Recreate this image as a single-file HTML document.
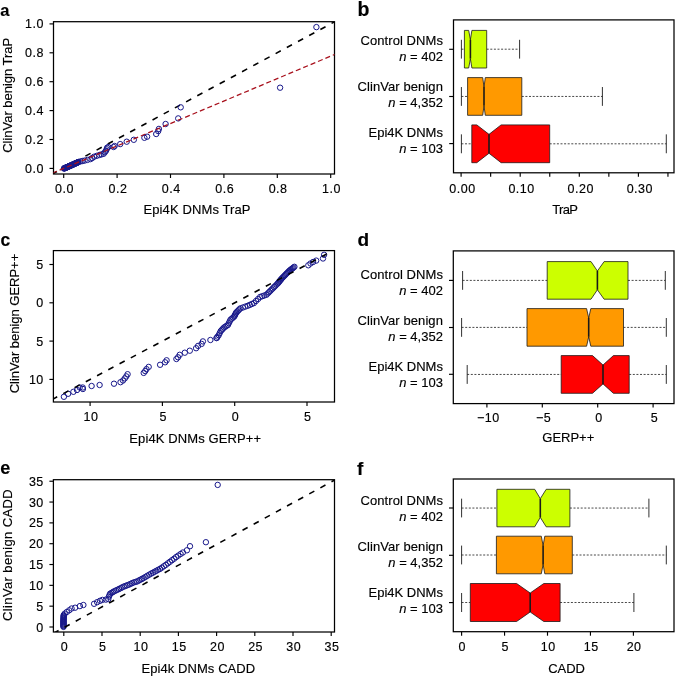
<!DOCTYPE html>
<html><head><meta charset="utf-8"><title>Figure</title>
<style>
html,body{margin:0;padding:0;background:#fff;}
svg{display:block;}
text{font-family:"Liberation Sans",sans-serif;fill:#000;stroke:#000;stroke-width:0.15px;}
</style></head><body>
<svg width="675" height="676" viewBox="0 0 675 676">
<rect width="675" height="676" fill="#fff"/>
<rect x="53.50" y="21.70" width="281.00" height="152.30" fill="none" stroke="#000" stroke-width="1.25"/>
<line x1="63.70" y1="174.00" x2="63.70" y2="178.00" stroke="#000" stroke-width="1.15" />
<text x="64.50" y="193.20" font-size="12.5" text-anchor="middle" font-weight="normal" letter-spacing="0.5" >0.0</text>
<line x1="117.10" y1="174.00" x2="117.10" y2="178.00" stroke="#000" stroke-width="1.15" />
<text x="117.90" y="193.20" font-size="12.5" text-anchor="middle" font-weight="normal" letter-spacing="0.5" >0.2</text>
<line x1="170.50" y1="174.00" x2="170.50" y2="178.00" stroke="#000" stroke-width="1.15" />
<text x="171.30" y="193.20" font-size="12.5" text-anchor="middle" font-weight="normal" letter-spacing="0.5" >0.4</text>
<line x1="223.90" y1="174.00" x2="223.90" y2="178.00" stroke="#000" stroke-width="1.15" />
<text x="224.70" y="193.20" font-size="12.5" text-anchor="middle" font-weight="normal" letter-spacing="0.5" >0.6</text>
<line x1="277.30" y1="174.00" x2="277.30" y2="178.00" stroke="#000" stroke-width="1.15" />
<text x="278.10" y="193.20" font-size="12.5" text-anchor="middle" font-weight="normal" letter-spacing="0.5" >0.8</text>
<line x1="330.70" y1="174.00" x2="330.70" y2="178.00" stroke="#000" stroke-width="1.15" />
<text x="331.50" y="193.20" font-size="12.5" text-anchor="middle" font-weight="normal" letter-spacing="0.5" >1.0</text>
<line x1="49.50" y1="168.40" x2="53.50" y2="168.40" stroke="#000" stroke-width="1.15" />
<text x="43.90" y="172.90" font-size="12.5" text-anchor="end" font-weight="normal" letter-spacing="0.5" >0.0</text>
<line x1="49.50" y1="139.50" x2="53.50" y2="139.50" stroke="#000" stroke-width="1.15" />
<text x="43.90" y="144.00" font-size="12.5" text-anchor="end" font-weight="normal" letter-spacing="0.5" >0.2</text>
<line x1="49.50" y1="110.60" x2="53.50" y2="110.60" stroke="#000" stroke-width="1.15" />
<text x="43.90" y="115.10" font-size="12.5" text-anchor="end" font-weight="normal" letter-spacing="0.5" >0.4</text>
<line x1="49.50" y1="81.70" x2="53.50" y2="81.70" stroke="#000" stroke-width="1.15" />
<text x="43.90" y="86.20" font-size="12.5" text-anchor="end" font-weight="normal" letter-spacing="0.5" >0.6</text>
<line x1="49.50" y1="52.80" x2="53.50" y2="52.80" stroke="#000" stroke-width="1.15" />
<text x="43.90" y="57.30" font-size="12.5" text-anchor="end" font-weight="normal" letter-spacing="0.5" >0.8</text>
<line x1="49.50" y1="23.90" x2="53.50" y2="23.90" stroke="#000" stroke-width="1.15" />
<text x="43.90" y="28.40" font-size="12.5" text-anchor="end" font-weight="normal" letter-spacing="0.5" >1.0</text>
<text x="197.00" y="213.90" font-size="13" text-anchor="middle" font-weight="normal" textLength="107.0" lengthAdjust="spacing" >Epi4K DNMs TraP</text>
<text transform="translate(11.90,95.30) rotate(-90)" font-size="13" text-anchor="middle" textLength="115.0" lengthAdjust="spacing">ClinVar benign TraP</text>
<text x="0.20" y="16.30" font-size="16.5" text-anchor="start" font-weight="bold" >a</text>
<clipPath id="ca"><rect x="53.5" y="21.7" width="281.0" height="152.3"/></clipPath>
<path clip-path="url(#ca)" d="M40.63 180.26L45.78 177.48M51.82 174.23L56.97 171.45M63.01 168.19L68.16 165.42M74.20 162.16L79.35 159.39M85.39 156.13L90.54 153.35M96.58 150.10L101.73 147.32M107.77 144.07L112.92 141.29M118.96 138.03L124.11 135.26M130.15 132.00L135.30 129.22M141.34 125.97L146.49 123.19M152.53 119.94L157.68 117.16M163.72 113.90L168.87 111.13M174.91 107.87L180.06 105.10M186.10 101.84L191.25 99.06M197.29 95.81L202.44 93.03M208.48 89.78L213.63 87.00M219.67 83.74L224.82 80.97M230.86 77.71L236.01 74.94M242.05 71.68L247.20 68.90M253.24 65.65L258.39 62.87M264.43 59.62L269.58 56.84M275.62 53.58L280.77 50.81M286.81 47.55L291.96 44.78M298.00 41.52L303.15 38.74M309.19 35.49L314.34 32.71M320.38 29.46L325.53 26.68M331.57 23.42L336.72 20.65" stroke="#000" stroke-width="1.6" fill="none"/>
<g fill="none" stroke="#18188a" stroke-width="1.0">
<circle cx="63.9" cy="168.5" r="2.7"/>
<circle cx="64.2" cy="168.4" r="2.7"/>
<circle cx="64.5" cy="168.3" r="2.7"/>
<circle cx="64.7" cy="168.1" r="2.7"/>
<circle cx="65.0" cy="168.0" r="2.7"/>
<circle cx="65.3" cy="167.9" r="2.7"/>
<circle cx="65.6" cy="167.8" r="2.7"/>
<circle cx="65.8" cy="167.7" r="2.7"/>
<circle cx="66.1" cy="167.6" r="2.7"/>
<circle cx="66.4" cy="167.4" r="2.7"/>
<circle cx="66.7" cy="167.3" r="2.7"/>
<circle cx="67.0" cy="167.2" r="2.7"/>
<circle cx="67.2" cy="167.1" r="2.7"/>
<circle cx="67.5" cy="167.0" r="2.7"/>
<circle cx="67.8" cy="166.8" r="2.7"/>
<circle cx="68.1" cy="166.7" r="2.7"/>
<circle cx="68.3" cy="166.6" r="2.7"/>
<circle cx="68.6" cy="166.5" r="2.7"/>
<circle cx="68.9" cy="166.4" r="2.7"/>
<circle cx="69.2" cy="166.3" r="2.7"/>
<circle cx="69.4" cy="166.1" r="2.7"/>
<circle cx="69.7" cy="166.0" r="2.7"/>
<circle cx="70.0" cy="165.9" r="2.7"/>
<circle cx="70.4" cy="165.7" r="2.7"/>
<circle cx="70.7" cy="165.6" r="2.7"/>
<circle cx="71.1" cy="165.4" r="2.7"/>
<circle cx="71.4" cy="165.2" r="2.7"/>
<circle cx="71.8" cy="165.1" r="2.7"/>
<circle cx="72.1" cy="164.9" r="2.7"/>
<circle cx="72.5" cy="164.8" r="2.7"/>
<circle cx="72.8" cy="164.6" r="2.7"/>
<circle cx="73.2" cy="164.4" r="2.7"/>
<circle cx="73.5" cy="164.3" r="2.7"/>
<circle cx="73.9" cy="164.1" r="2.7"/>
<circle cx="74.2" cy="163.9" r="2.7"/>
<circle cx="74.6" cy="163.8" r="2.7"/>
<circle cx="75.0" cy="163.6" r="2.7"/>
<circle cx="75.3" cy="163.5" r="2.7"/>
<circle cx="75.7" cy="163.3" r="2.7"/>
<circle cx="76.0" cy="163.1" r="2.7"/>
<circle cx="76.4" cy="163.0" r="2.7"/>
<circle cx="76.7" cy="162.8" r="2.7"/>
<circle cx="77.1" cy="162.7" r="2.7"/>
<circle cx="77.4" cy="162.5" r="2.7"/>
<circle cx="77.8" cy="162.3" r="2.7"/>
<circle cx="78.1" cy="162.2" r="2.7"/>
<circle cx="78.5" cy="162.0" r="2.7"/>
<circle cx="80.5" cy="161.4" r="2.7"/>
<circle cx="82.5" cy="161.0" r="2.7"/>
<circle cx="84.6" cy="160.6" r="2.7"/>
<circle cx="87.5" cy="159.9" r="2.7"/>
<circle cx="90.5" cy="159.1" r="2.7"/>
<circle cx="92.3" cy="158.0" r="2.7"/>
<circle cx="94.1" cy="156.7" r="2.7"/>
<circle cx="96.8" cy="155.8" r="2.7"/>
<circle cx="99.4" cy="155.0" r="2.7"/>
<circle cx="101.5" cy="154.4" r="2.7"/>
<circle cx="103.6" cy="153.8" r="2.7"/>
<circle cx="104.8" cy="152.3" r="2.7"/>
<circle cx="106.0" cy="150.8" r="2.7"/>
<circle cx="106.6" cy="149.3" r="2.7"/>
<circle cx="107.1" cy="147.8" r="2.7"/>
<circle cx="108.3" cy="147.0" r="2.7"/>
<circle cx="113.6" cy="147.0" r="2.7"/>
<circle cx="114.6" cy="146.0" r="2.7"/>
<circle cx="120.2" cy="144.1" r="2.7"/>
<circle cx="126.7" cy="141.7" r="2.7"/>
<circle cx="133.8" cy="139.8" r="2.7"/>
<circle cx="144.4" cy="137.8" r="2.7"/>
<circle cx="147.1" cy="136.7" r="2.7"/>
<circle cx="156.2" cy="134.0" r="2.7"/>
<circle cx="158.2" cy="131.1" r="2.7"/>
<circle cx="158.9" cy="128.9" r="2.7"/>
<circle cx="165.6" cy="124.0" r="2.7"/>
<circle cx="178.2" cy="118.4" r="2.7"/>
<circle cx="180.7" cy="107.3" r="2.7"/>
<circle cx="280.1" cy="87.7" r="2.7"/>
<circle cx="316.4" cy="27.1" r="2.7"/>
</g>
<clipPath id="car"><rect x="53.5" y="21.7" width="281.0" height="152.3"/></clipPath>
<path clip-path="url(#car)" d="M44.84 176.33L49.50 174.37M52.22 173.23L56.88 171.27M59.61 170.12L64.27 168.16M66.99 167.02L71.65 165.06M74.37 163.91L79.03 161.95M81.75 160.81L86.41 158.85M89.14 157.70L93.80 155.74M96.52 154.60L101.18 152.64M103.90 151.49L108.56 149.53M111.29 148.39L115.95 146.43M118.67 145.28L123.33 143.32M126.05 142.18L130.71 140.22M133.44 139.08L138.10 137.12M140.82 135.97L145.48 134.01M148.20 132.87L152.86 130.91M155.59 129.76L160.25 127.80M162.97 126.66L167.63 124.70M170.35 123.55L175.01 121.59M177.73 120.45L182.39 118.49M185.12 117.34L189.78 115.38M192.50 114.24L197.16 112.28M199.88 111.13L204.54 109.17M207.27 108.03L211.93 106.07M214.65 104.92L219.31 102.96M222.03 101.82L226.69 99.86M229.41 98.71L234.07 96.76M236.80 95.61L241.46 93.65M244.18 92.51L248.84 90.55M251.56 89.40L256.22 87.44M258.95 86.30L263.61 84.34M266.33 83.19L270.99 81.23M273.71 80.09L278.37 78.13M281.10 76.98L285.76 75.02M288.48 73.88L293.14 71.92M295.86 70.77L300.52 68.81M303.25 67.67L307.91 65.71M310.63 64.56L315.29 62.60M318.01 61.46L322.67 59.50M325.39 58.35L330.05 56.40M332.78 55.25L337.44 53.29" stroke="#a8101c" stroke-width="1.25" fill="none"/>
<rect x="53.40" y="250.60" width="281.10" height="151.40" fill="none" stroke="#000" stroke-width="1.25"/>
<line x1="90.10" y1="402.00" x2="90.10" y2="406.00" stroke="#000" stroke-width="1.15" />
<text x="90.90" y="421.30" font-size="12.5" text-anchor="middle" font-weight="normal" letter-spacing="0.5" >10</text>
<line x1="162.40" y1="402.00" x2="162.40" y2="406.00" stroke="#000" stroke-width="1.15" />
<text x="163.20" y="421.30" font-size="12.5" text-anchor="middle" font-weight="normal" letter-spacing="0.5" >5</text>
<line x1="234.70" y1="402.00" x2="234.70" y2="406.00" stroke="#000" stroke-width="1.15" />
<text x="235.50" y="421.30" font-size="12.5" text-anchor="middle" font-weight="normal" letter-spacing="0.5" >0</text>
<line x1="307.00" y1="402.00" x2="307.00" y2="406.00" stroke="#000" stroke-width="1.15" />
<text x="307.80" y="421.30" font-size="12.5" text-anchor="middle" font-weight="normal" letter-spacing="0.5" >5</text>
<line x1="49.40" y1="264.50" x2="53.40" y2="264.50" stroke="#000" stroke-width="1.15" />
<text x="43.80" y="269.00" font-size="12.5" text-anchor="end" font-weight="normal" letter-spacing="0.5" >5</text>
<line x1="49.40" y1="302.80" x2="53.40" y2="302.80" stroke="#000" stroke-width="1.15" />
<text x="43.80" y="307.30" font-size="12.5" text-anchor="end" font-weight="normal" letter-spacing="0.5" >0</text>
<line x1="49.40" y1="341.10" x2="53.40" y2="341.10" stroke="#000" stroke-width="1.15" />
<text x="43.80" y="345.60" font-size="12.5" text-anchor="end" font-weight="normal" letter-spacing="0.5" >5</text>
<line x1="49.40" y1="379.40" x2="53.40" y2="379.40" stroke="#000" stroke-width="1.15" />
<text x="43.80" y="383.90" font-size="12.5" text-anchor="end" font-weight="normal" letter-spacing="0.5" >10</text>
<text x="195.20" y="442.90" font-size="13" text-anchor="middle" font-weight="normal" textLength="131.8" lengthAdjust="spacing" >Epi4K DNMs GERP++</text>
<text transform="translate(19.20,323.50) rotate(-90)" font-size="13" text-anchor="middle" textLength="139.5" lengthAdjust="spacing">ClinVar benign GERP++</text>
<text x="0.40" y="246.10" font-size="17.5" text-anchor="start" font-weight="bold" >c</text>
<g fill="none" stroke="#18188a" stroke-width="1.0">
<circle cx="63.9" cy="396.8" r="2.7"/>
<circle cx="68.1" cy="393.8" r="2.7"/>
<circle cx="73.4" cy="391.8" r="2.7"/>
<circle cx="77.0" cy="390.0" r="2.7"/>
<circle cx="79.7" cy="387.5" r="2.7"/>
<circle cx="82.7" cy="387.5" r="2.7"/>
<circle cx="82.9" cy="389.0" r="2.7"/>
<circle cx="91.6" cy="386.0" r="2.7"/>
<circle cx="99.6" cy="385.0" r="2.7"/>
<circle cx="114.0" cy="383.7" r="2.7"/>
<circle cx="120.5" cy="382.2" r="2.7"/>
<circle cx="123.0" cy="380.5" r="2.7"/>
<circle cx="124.8" cy="378.4" r="2.7"/>
<circle cx="126.3" cy="376.4" r="2.7"/>
<circle cx="127.6" cy="374.2" r="2.7"/>
<circle cx="143.7" cy="372.9" r="2.7"/>
<circle cx="145.2" cy="371.1" r="2.7"/>
<circle cx="146.5" cy="369.1" r="2.7"/>
<circle cx="148.7" cy="366.9" r="2.7"/>
<circle cx="160.1" cy="364.8" r="2.7"/>
<circle cx="165.1" cy="362.3" r="2.7"/>
<circle cx="166.6" cy="360.3" r="2.7"/>
<circle cx="176.4" cy="359.0" r="2.7"/>
<circle cx="178.0" cy="357.3" r="2.7"/>
<circle cx="179.7" cy="354.8" r="2.7"/>
<circle cx="184.8" cy="352.7" r="2.7"/>
<circle cx="189.8" cy="350.7" r="2.7"/>
<circle cx="196.1" cy="348.2" r="2.7"/>
<circle cx="198.1" cy="345.9" r="2.7"/>
<circle cx="201.6" cy="343.9" r="2.7"/>
<circle cx="202.9" cy="341.4" r="2.7"/>
<circle cx="210.4" cy="340.0" r="2.7"/>
<circle cx="216.6" cy="338.0" r="2.7"/>
<circle cx="216.6" cy="338.0" r="2.7"/>
<circle cx="217.6" cy="336.6" r="2.7"/>
<circle cx="218.7" cy="335.2" r="2.7"/>
<circle cx="219.7" cy="333.1" r="2.7"/>
<circle cx="220.7" cy="331.1" r="2.7"/>
<circle cx="221.8" cy="329.9" r="2.7"/>
<circle cx="222.8" cy="328.8" r="2.7"/>
<circle cx="223.9" cy="327.6" r="2.7"/>
<circle cx="225.3" cy="326.7" r="2.7"/>
<circle cx="226.6" cy="325.8" r="2.7"/>
<circle cx="228.0" cy="324.9" r="2.7"/>
<circle cx="228.8" cy="323.2" r="2.7"/>
<circle cx="229.7" cy="321.4" r="2.7"/>
<circle cx="230.5" cy="319.7" r="2.7"/>
<circle cx="231.7" cy="318.7" r="2.7"/>
<circle cx="233.0" cy="317.6" r="2.7"/>
<circle cx="234.2" cy="316.6" r="2.7"/>
<circle cx="234.7" cy="315.6" r="2.7"/>
<circle cx="235.2" cy="314.5" r="2.7"/>
<circle cx="235.8" cy="313.4" r="2.7"/>
<circle cx="236.3" cy="312.4" r="2.7"/>
<circle cx="237.4" cy="311.4" r="2.7"/>
<circle cx="238.4" cy="310.4" r="2.7"/>
<circle cx="239.4" cy="309.3" r="2.7"/>
<circle cx="240.5" cy="308.3" r="2.7"/>
<circle cx="242.9" cy="307.5" r="2.7"/>
<circle cx="245.3" cy="306.6" r="2.7"/>
<circle cx="247.7" cy="305.8" r="2.7"/>
<circle cx="249.8" cy="304.9" r="2.7"/>
<circle cx="251.8" cy="304.0" r="2.7"/>
<circle cx="253.9" cy="303.1" r="2.7"/>
<circle cx="256.0" cy="301.0" r="2.7"/>
<circle cx="258.1" cy="299.0" r="2.7"/>
<circle cx="260.2" cy="296.9" r="2.7"/>
<circle cx="262.3" cy="296.2" r="2.7"/>
<circle cx="264.3" cy="295.5" r="2.7"/>
<circle cx="266.4" cy="294.8" r="2.7"/>
<circle cx="267.7" cy="293.5" r="2.7"/>
<circle cx="269.0" cy="292.2" r="2.7"/>
<circle cx="270.3" cy="290.9" r="2.7"/>
<circle cx="271.6" cy="289.6" r="2.7"/>
<circle cx="272.8" cy="288.4" r="2.7"/>
<circle cx="274.1" cy="287.1" r="2.7"/>
<circle cx="275.3" cy="285.9" r="2.7"/>
<circle cx="276.6" cy="284.6" r="2.7"/>
<circle cx="277.8" cy="283.4" r="2.7"/>
<circle cx="278.5" cy="282.5" r="2.7"/>
<circle cx="279.2" cy="281.7" r="2.7"/>
<circle cx="279.9" cy="280.8" r="2.7"/>
<circle cx="280.6" cy="279.9" r="2.7"/>
<circle cx="281.3" cy="279.1" r="2.7"/>
<circle cx="282.0" cy="278.2" r="2.7"/>
<circle cx="283.0" cy="277.2" r="2.7"/>
<circle cx="284.1" cy="276.1" r="2.7"/>
<circle cx="285.1" cy="275.1" r="2.7"/>
<circle cx="286.1" cy="274.0" r="2.7"/>
<circle cx="287.1" cy="273.0" r="2.7"/>
<circle cx="288.2" cy="271.9" r="2.7"/>
<circle cx="289.2" cy="270.9" r="2.7"/>
<circle cx="290.1" cy="270.2" r="2.7"/>
<circle cx="290.9" cy="269.5" r="2.7"/>
<circle cx="291.8" cy="268.9" r="2.7"/>
<circle cx="292.7" cy="268.2" r="2.7"/>
<circle cx="293.5" cy="267.5" r="2.7"/>
<circle cx="294.4" cy="266.8" r="2.7"/>
<circle cx="308.3" cy="265.3" r="2.7"/>
<circle cx="310.5" cy="263.5" r="2.7"/>
<circle cx="313.1" cy="262.0" r="2.7"/>
<circle cx="316.2" cy="260.6" r="2.7"/>
<circle cx="323.0" cy="258.5" r="2.7"/>
<circle cx="324.1" cy="254.8" r="2.7"/>
</g>
<clipPath id="cc"><rect x="53.4" y="250.6" width="273.3" height="151.4"/></clipPath>
<path clip-path="url(#cc)" d="M40.80 405.52L45.95 402.79M52.05 399.56L57.20 396.83M63.30 393.60L68.45 390.87M74.55 387.64L79.70 384.91M85.80 381.68L90.95 378.95M97.05 375.72L102.20 372.99M108.30 369.76L113.45 367.03M119.55 363.80L124.70 361.07M130.80 357.84L135.95 355.11M142.05 351.88L147.20 349.15M153.30 345.92L158.45 343.19M164.55 339.96L169.70 337.23M175.80 334.00L180.95 331.27M187.05 328.04L192.20 325.31M198.30 322.08L203.45 319.35M209.55 316.12L214.70 313.39M220.80 310.16L225.95 307.44M232.05 304.20L237.20 301.48M243.30 298.24L248.45 295.52M254.55 292.28L259.70 289.56M265.80 286.33L270.95 283.60M277.05 280.37L282.20 277.64M288.30 274.41L293.45 271.68M299.55 268.45L304.70 265.72M310.80 262.49L315.95 259.76M322.05 256.53L327.20 253.80" stroke="#000" stroke-width="1.6" fill="none"/>
<rect x="53.40" y="479.70" width="281.10" height="152.30" fill="none" stroke="#000" stroke-width="1.25"/>
<line x1="63.80" y1="632.00" x2="63.80" y2="636.00" stroke="#000" stroke-width="1.15" />
<text x="64.60" y="650.80" font-size="12.5" text-anchor="middle" font-weight="normal" letter-spacing="0.5" >0</text>
<line x1="102.00" y1="632.00" x2="102.00" y2="636.00" stroke="#000" stroke-width="1.15" />
<text x="102.80" y="650.80" font-size="12.5" text-anchor="middle" font-weight="normal" letter-spacing="0.5" >5</text>
<line x1="140.20" y1="632.00" x2="140.20" y2="636.00" stroke="#000" stroke-width="1.15" />
<text x="141.00" y="650.80" font-size="12.5" text-anchor="middle" font-weight="normal" letter-spacing="0.5" >10</text>
<line x1="178.40" y1="632.00" x2="178.40" y2="636.00" stroke="#000" stroke-width="1.15" />
<text x="179.20" y="650.80" font-size="12.5" text-anchor="middle" font-weight="normal" letter-spacing="0.5" >15</text>
<line x1="216.60" y1="632.00" x2="216.60" y2="636.00" stroke="#000" stroke-width="1.15" />
<text x="217.40" y="650.80" font-size="12.5" text-anchor="middle" font-weight="normal" letter-spacing="0.5" >20</text>
<line x1="254.80" y1="632.00" x2="254.80" y2="636.00" stroke="#000" stroke-width="1.15" />
<text x="255.60" y="650.80" font-size="12.5" text-anchor="middle" font-weight="normal" letter-spacing="0.5" >25</text>
<line x1="293.00" y1="632.00" x2="293.00" y2="636.00" stroke="#000" stroke-width="1.15" />
<text x="293.80" y="650.80" font-size="12.5" text-anchor="middle" font-weight="normal" letter-spacing="0.5" >30</text>
<line x1="331.20" y1="632.00" x2="331.20" y2="636.00" stroke="#000" stroke-width="1.15" />
<text x="332.00" y="650.80" font-size="12.5" text-anchor="middle" font-weight="normal" letter-spacing="0.5" >35</text>
<line x1="49.40" y1="627.00" x2="53.40" y2="627.00" stroke="#000" stroke-width="1.15" />
<text x="43.80" y="631.50" font-size="12.5" text-anchor="end" font-weight="normal" letter-spacing="0.5" >0</text>
<line x1="49.40" y1="606.17" x2="53.40" y2="606.17" stroke="#000" stroke-width="1.15" />
<text x="43.80" y="610.67" font-size="12.5" text-anchor="end" font-weight="normal" letter-spacing="0.5" >5</text>
<line x1="49.40" y1="585.35" x2="53.40" y2="585.35" stroke="#000" stroke-width="1.15" />
<text x="43.80" y="589.85" font-size="12.5" text-anchor="end" font-weight="normal" letter-spacing="0.5" >10</text>
<line x1="49.40" y1="564.52" x2="53.40" y2="564.52" stroke="#000" stroke-width="1.15" />
<text x="43.80" y="569.02" font-size="12.5" text-anchor="end" font-weight="normal" letter-spacing="0.5" >15</text>
<line x1="49.40" y1="543.70" x2="53.40" y2="543.70" stroke="#000" stroke-width="1.15" />
<text x="43.80" y="548.20" font-size="12.5" text-anchor="end" font-weight="normal" letter-spacing="0.5" >20</text>
<line x1="49.40" y1="522.88" x2="53.40" y2="522.88" stroke="#000" stroke-width="1.15" />
<text x="43.80" y="527.38" font-size="12.5" text-anchor="end" font-weight="normal" letter-spacing="0.5" >25</text>
<line x1="49.40" y1="502.05" x2="53.40" y2="502.05" stroke="#000" stroke-width="1.15" />
<text x="43.80" y="506.55" font-size="12.5" text-anchor="end" font-weight="normal" letter-spacing="0.5" >30</text>
<line x1="49.40" y1="481.23" x2="53.40" y2="481.23" stroke="#000" stroke-width="1.15" />
<text x="43.80" y="485.73" font-size="12.5" text-anchor="end" font-weight="normal" letter-spacing="0.5" >35</text>
<text x="198.30" y="672.90" font-size="13" text-anchor="middle" font-weight="normal" textLength="113.8" lengthAdjust="spacing" >Epi4k DNMs CADD</text>
<text transform="translate(11.80,555.20) rotate(-90)" font-size="13" text-anchor="middle" textLength="131.6" lengthAdjust="spacing">ClinVar benign CADD</text>
<text x="0.20" y="474.40" font-size="18" text-anchor="start" font-weight="bold" >e</text>
<g fill="none" stroke="#18188a" stroke-width="1.0">
<circle cx="63.5" cy="626.9" r="2.7"/>
<circle cx="63.5" cy="626.2" r="2.7"/>
<circle cx="63.5" cy="625.6" r="2.7"/>
<circle cx="63.5" cy="624.9" r="2.7"/>
<circle cx="63.5" cy="624.3" r="2.7"/>
<circle cx="63.5" cy="623.6" r="2.7"/>
<circle cx="63.5" cy="623.0" r="2.7"/>
<circle cx="63.5" cy="622.3" r="2.7"/>
<circle cx="63.5" cy="621.7" r="2.7"/>
<circle cx="63.5" cy="621.0" r="2.7"/>
<circle cx="63.5" cy="620.2" r="2.7"/>
<circle cx="63.5" cy="619.5" r="2.7"/>
<circle cx="63.6" cy="618.8" r="2.7"/>
<circle cx="63.6" cy="618.0" r="2.7"/>
<circle cx="63.6" cy="617.2" r="2.7"/>
<circle cx="63.7" cy="616.5" r="2.7"/>
<circle cx="63.7" cy="615.8" r="2.7"/>
<circle cx="63.7" cy="615.0" r="2.7"/>
<circle cx="64.8" cy="613.6" r="2.7"/>
<circle cx="66.8" cy="612.0" r="2.7"/>
<circle cx="69.2" cy="610.3" r="2.7"/>
<circle cx="71.6" cy="608.5" r="2.7"/>
<circle cx="75.1" cy="607.7" r="2.7"/>
<circle cx="79.9" cy="606.1" r="2.7"/>
<circle cx="83.4" cy="605.0" r="2.7"/>
<circle cx="94.1" cy="603.8" r="2.7"/>
<circle cx="97.1" cy="602.2" r="2.7"/>
<circle cx="100.0" cy="600.8" r="2.7"/>
<circle cx="102.4" cy="599.9" r="2.7"/>
<circle cx="105.9" cy="599.6" r="2.7"/>
<circle cx="108.3" cy="599.0" r="2.7"/>
<circle cx="108.9" cy="596.7" r="2.7"/>
<circle cx="109.5" cy="595.2" r="2.7"/>
<circle cx="110.1" cy="593.7" r="2.7"/>
<circle cx="111.5" cy="592.9" r="2.7"/>
<circle cx="112.8" cy="592.1" r="2.7"/>
<circle cx="114.2" cy="591.3" r="2.7"/>
<circle cx="115.8" cy="590.5" r="2.7"/>
<circle cx="117.4" cy="589.8" r="2.7"/>
<circle cx="119.0" cy="589.0" r="2.7"/>
<circle cx="120.6" cy="588.2" r="2.7"/>
<circle cx="122.1" cy="587.4" r="2.7"/>
<circle cx="123.7" cy="586.6" r="2.7"/>
<circle cx="125.3" cy="586.0" r="2.7"/>
<circle cx="126.9" cy="585.4" r="2.7"/>
<circle cx="128.5" cy="584.8" r="2.7"/>
<circle cx="130.3" cy="584.0" r="2.7"/>
<circle cx="132.0" cy="583.2" r="2.7"/>
<circle cx="133.8" cy="582.4" r="2.7"/>
<circle cx="135.6" cy="581.9" r="2.7"/>
<circle cx="137.3" cy="581.4" r="2.7"/>
<circle cx="138.9" cy="580.5" r="2.7"/>
<circle cx="140.4" cy="579.7" r="2.7"/>
<circle cx="142.0" cy="578.9" r="2.7"/>
<circle cx="143.6" cy="578.0" r="2.7"/>
<circle cx="145.5" cy="576.9" r="2.7"/>
<circle cx="147.3" cy="575.8" r="2.7"/>
<circle cx="149.2" cy="574.7" r="2.7"/>
<circle cx="151.1" cy="573.6" r="2.7"/>
<circle cx="152.9" cy="572.7" r="2.7"/>
<circle cx="154.7" cy="571.7" r="2.7"/>
<circle cx="156.4" cy="570.8" r="2.7"/>
<circle cx="158.2" cy="569.8" r="2.7"/>
<circle cx="160.0" cy="568.9" r="2.7"/>
<circle cx="161.9" cy="567.6" r="2.7"/>
<circle cx="163.9" cy="566.2" r="2.7"/>
<circle cx="165.8" cy="564.9" r="2.7"/>
<circle cx="167.9" cy="563.3" r="2.7"/>
<circle cx="169.9" cy="561.8" r="2.7"/>
<circle cx="172.0" cy="560.2" r="2.7"/>
<circle cx="174.1" cy="558.7" r="2.7"/>
<circle cx="176.1" cy="557.1" r="2.7"/>
<circle cx="178.2" cy="555.6" r="2.7"/>
<circle cx="180.6" cy="554.0" r="2.7"/>
<circle cx="182.9" cy="552.5" r="2.7"/>
<circle cx="186.9" cy="550.3" r="2.7"/>
<circle cx="190.0" cy="546.2" r="2.7"/>
<circle cx="205.9" cy="542.2" r="2.7"/>
<circle cx="217.7" cy="484.9" r="2.7"/>
</g>
<clipPath id="ce"><rect x="53.4" y="479.7" width="281.1" height="152.3"/></clipPath>
<path clip-path="url(#ce)" d="M31.24 645.45L36.34 642.67M42.36 639.39L47.46 636.61M53.48 633.33L58.58 630.55M64.60 627.26L69.70 624.48M75.72 621.20L80.82 618.42M86.84 615.14L91.94 612.36M97.96 609.08L103.06 606.30M109.08 603.02L114.18 600.23M120.20 596.95L125.30 594.17M131.32 590.89L136.42 588.11M142.44 584.83L147.54 582.05M153.56 578.77L158.66 575.99M164.68 572.70L169.78 569.92M175.80 566.64L180.90 563.86M186.92 560.58L192.02 557.80M198.04 554.52L203.14 551.74M209.16 548.46L214.26 545.68M220.28 542.39L225.38 539.61M231.40 536.33L236.50 533.55M242.52 530.27L247.62 527.49M253.64 524.21L258.74 521.43M264.76 518.15L269.86 515.36M275.88 512.08L280.98 509.30M287.00 506.02L292.10 503.24M298.12 499.96L303.22 497.18M309.24 493.90L314.34 491.12M320.36 487.83L325.46 485.05M331.48 481.77L336.58 478.99" stroke="#000" stroke-width="1.6" fill="none"/>
<rect x="453.50" y="19.90" width="220.50" height="152.90" fill="none" stroke="#000" stroke-width="1.25"/>
<line x1="461.10" y1="172.80" x2="461.10" y2="176.80" stroke="#000" stroke-width="1.15" />
<text x="462.50" y="193.20" font-size="12.5" text-anchor="middle" font-weight="normal" letter-spacing="0.5" >0.00</text>
<line x1="490.65" y1="172.80" x2="490.65" y2="176.80" stroke="#000" stroke-width="1.15" />
<line x1="520.20" y1="172.80" x2="520.20" y2="176.80" stroke="#000" stroke-width="1.15" />
<text x="521.60" y="193.20" font-size="12.5" text-anchor="middle" font-weight="normal" letter-spacing="0.5" >0.10</text>
<line x1="549.75" y1="172.80" x2="549.75" y2="176.80" stroke="#000" stroke-width="1.15" />
<line x1="579.30" y1="172.80" x2="579.30" y2="176.80" stroke="#000" stroke-width="1.15" />
<text x="580.70" y="193.20" font-size="12.5" text-anchor="middle" font-weight="normal" letter-spacing="0.5" >0.20</text>
<line x1="608.85" y1="172.80" x2="608.85" y2="176.80" stroke="#000" stroke-width="1.15" />
<line x1="638.40" y1="172.80" x2="638.40" y2="176.80" stroke="#000" stroke-width="1.15" />
<text x="639.80" y="193.20" font-size="12.5" text-anchor="middle" font-weight="normal" letter-spacing="0.5" >0.30</text>
<line x1="667.95" y1="172.80" x2="667.95" y2="176.80" stroke="#000" stroke-width="1.15" />
<text x="565.10" y="214.20" font-size="13" text-anchor="middle" font-weight="normal" textLength="25.8" lengthAdjust="spacing" >TraP</text>
<text x="357.40" y="16.00" font-size="19.5" text-anchor="start" font-weight="bold" >b</text>
<line x1="449.20" y1="49.30" x2="453.50" y2="49.30" stroke="#000" stroke-width="1.15" />
<text x="442.90" y="45.30" font-size="13" text-anchor="end" font-weight="normal" textLength="82.3" lengthAdjust="spacing" >Control DNMs</text>
<text x="442.90" y="61.10" font-size="13" text-anchor="end" font-weight="normal" ><tspan font-style="italic">n</tspan> = 402</text>
<line x1="461.40" y1="49.20" x2="464.40" y2="49.20" stroke="#1a1a1a" stroke-width="0.8" stroke-dasharray="2 1.6"/>
<line x1="486.70" y1="49.20" x2="519.60" y2="49.20" stroke="#1a1a1a" stroke-width="0.8" stroke-dasharray="2 1.6"/>
<line x1="461.40" y1="39.80" x2="461.40" y2="58.60" stroke="#1a1a1a" stroke-width="0.9" />
<line x1="519.60" y1="39.80" x2="519.60" y2="58.60" stroke="#1a1a1a" stroke-width="0.9" />
<polygon points="464.40,30.40 468.70,30.40 470.40,39.80 471.90,30.40 486.70,30.40 486.70,68.00 471.90,68.00 470.40,58.60 468.70,68.00 464.40,68.00" fill="#ccff00" stroke="#1a1a1a" stroke-width="0.8" stroke-linejoin="miter"/>
<line x1="470.40" y1="39.80" x2="470.40" y2="58.60" stroke="#1a1a1a" stroke-width="1.6" />
<line x1="449.20" y1="96.50" x2="453.50" y2="96.50" stroke="#000" stroke-width="1.15" />
<text x="442.90" y="91.30" font-size="13" text-anchor="end" font-weight="normal" textLength="85.4" lengthAdjust="spacing" >ClinVar benign</text>
<text x="442.90" y="107.10" font-size="13" text-anchor="end" font-weight="normal" ><tspan font-style="italic">n</tspan> = 4,352</text>
<line x1="461.40" y1="96.45" x2="467.60" y2="96.45" stroke="#1a1a1a" stroke-width="0.8" stroke-dasharray="2 1.6"/>
<line x1="521.80" y1="96.45" x2="602.40" y2="96.45" stroke="#1a1a1a" stroke-width="0.8" stroke-dasharray="2 1.6"/>
<line x1="461.40" y1="87.02" x2="461.40" y2="105.87" stroke="#1a1a1a" stroke-width="0.9" />
<line x1="602.40" y1="87.02" x2="602.40" y2="105.87" stroke="#1a1a1a" stroke-width="0.9" />
<polygon points="467.60,77.60 482.70,77.60 484.00,87.02 485.30,77.60 521.80,77.60 521.80,115.30 485.30,115.30 484.00,105.87 482.70,115.30 467.60,115.30" fill="#ff9900" stroke="#1a1a1a" stroke-width="0.8" stroke-linejoin="miter"/>
<line x1="484.00" y1="87.02" x2="484.00" y2="105.87" stroke="#1a1a1a" stroke-width="1.6" />
<line x1="449.20" y1="143.60" x2="453.50" y2="143.60" stroke="#000" stroke-width="1.15" />
<text x="442.90" y="137.30" font-size="13" text-anchor="end" font-weight="normal" textLength="74.3" lengthAdjust="spacing" >Epi4K DNMs</text>
<text x="442.90" y="153.10" font-size="13" text-anchor="end" font-weight="normal" ><tspan font-style="italic">n</tspan> = 103</text>
<line x1="461.40" y1="143.80" x2="471.80" y2="143.80" stroke="#1a1a1a" stroke-width="0.8" stroke-dasharray="2 1.6"/>
<line x1="549.70" y1="143.80" x2="666.30" y2="143.80" stroke="#1a1a1a" stroke-width="0.8" stroke-dasharray="2 1.6"/>
<line x1="461.40" y1="134.35" x2="461.40" y2="153.25" stroke="#1a1a1a" stroke-width="0.9" />
<line x1="666.30" y1="134.35" x2="666.30" y2="153.25" stroke="#1a1a1a" stroke-width="0.9" />
<polygon points="471.80,124.90 476.80,124.90 489.00,134.35 501.10,124.90 549.70,124.90 549.70,162.70 501.10,162.70 489.00,153.25 476.80,162.70 471.80,162.70" fill="#ff0000" stroke="#1a1a1a" stroke-width="0.8" stroke-linejoin="miter"/>
<line x1="489.00" y1="134.35" x2="489.00" y2="153.25" stroke="#1a1a1a" stroke-width="1.6" />
<rect x="453.30" y="250.90" width="220.70" height="152.70" fill="none" stroke="#000" stroke-width="1.25"/>
<line x1="486.90" y1="403.60" x2="486.90" y2="407.60" stroke="#000" stroke-width="1.15" />
<text x="488.30" y="422.00" font-size="12.5" text-anchor="middle" font-weight="normal" letter-spacing="0.5" >−10</text>
<line x1="542.30" y1="403.60" x2="542.30" y2="407.60" stroke="#000" stroke-width="1.15" />
<text x="543.70" y="422.00" font-size="12.5" text-anchor="middle" font-weight="normal" letter-spacing="0.5" >−5</text>
<line x1="597.70" y1="403.60" x2="597.70" y2="407.60" stroke="#000" stroke-width="1.15" />
<text x="599.10" y="422.00" font-size="12.5" text-anchor="middle" font-weight="normal" letter-spacing="0.5" >0</text>
<line x1="653.10" y1="403.60" x2="653.10" y2="407.60" stroke="#000" stroke-width="1.15" />
<text x="654.50" y="422.00" font-size="12.5" text-anchor="middle" font-weight="normal" letter-spacing="0.5" >5</text>
<text x="568.30" y="442.00" font-size="13" text-anchor="middle" font-weight="normal" >GERP++</text>
<text x="357.40" y="246.20" font-size="19" text-anchor="start" font-weight="bold" >d</text>
<line x1="449.00" y1="280.40" x2="453.30" y2="280.40" stroke="#000" stroke-width="1.15" />
<text x="442.90" y="278.80" font-size="13" text-anchor="end" font-weight="normal" textLength="82.3" lengthAdjust="spacing" >Control DNMs</text>
<text x="442.90" y="294.60" font-size="13" text-anchor="end" font-weight="normal" ><tspan font-style="italic">n</tspan> = 402</text>
<line x1="462.60" y1="280.40" x2="547.20" y2="280.40" stroke="#1a1a1a" stroke-width="0.8" stroke-dasharray="2 1.6"/>
<line x1="628.00" y1="280.40" x2="665.30" y2="280.40" stroke="#1a1a1a" stroke-width="0.8" stroke-dasharray="2 1.6"/>
<line x1="462.60" y1="271.00" x2="462.60" y2="289.80" stroke="#1a1a1a" stroke-width="0.9" />
<line x1="665.30" y1="271.00" x2="665.30" y2="289.80" stroke="#1a1a1a" stroke-width="0.9" />
<polygon points="547.20,261.60 591.00,261.60 597.40,271.00 604.10,261.60 628.00,261.60 628.00,299.20 604.10,299.20 597.40,289.80 591.00,299.20 547.20,299.20" fill="#ccff00" stroke="#1a1a1a" stroke-width="0.8" stroke-linejoin="miter"/>
<line x1="597.40" y1="271.00" x2="597.40" y2="289.80" stroke="#1a1a1a" stroke-width="1.6" />
<line x1="449.00" y1="327.50" x2="453.30" y2="327.50" stroke="#000" stroke-width="1.15" />
<text x="442.90" y="324.80" font-size="13" text-anchor="end" font-weight="normal" textLength="85.4" lengthAdjust="spacing" >ClinVar benign</text>
<text x="442.90" y="340.60" font-size="13" text-anchor="end" font-weight="normal" ><tspan font-style="italic">n</tspan> = 4,352</text>
<line x1="461.60" y1="327.40" x2="527.00" y2="327.40" stroke="#1a1a1a" stroke-width="0.8" stroke-dasharray="2 1.6"/>
<line x1="623.50" y1="327.40" x2="666.30" y2="327.40" stroke="#1a1a1a" stroke-width="0.8" stroke-dasharray="2 1.6"/>
<line x1="461.60" y1="318.00" x2="461.60" y2="336.80" stroke="#1a1a1a" stroke-width="0.9" />
<line x1="666.30" y1="318.00" x2="666.30" y2="336.80" stroke="#1a1a1a" stroke-width="0.9" />
<polygon points="527.00,308.60 586.60,308.60 588.70,318.00 590.80,308.60 623.50,308.60 623.50,346.20 590.80,346.20 588.70,336.80 586.60,346.20 527.00,346.20" fill="#ff9900" stroke="#1a1a1a" stroke-width="0.8" stroke-linejoin="miter"/>
<line x1="588.70" y1="318.00" x2="588.70" y2="336.80" stroke="#1a1a1a" stroke-width="1.6" />
<line x1="449.00" y1="374.30" x2="453.30" y2="374.30" stroke="#000" stroke-width="1.15" />
<text x="442.90" y="370.80" font-size="13" text-anchor="end" font-weight="normal" textLength="74.3" lengthAdjust="spacing" >Epi4K DNMs</text>
<text x="442.90" y="386.60" font-size="13" text-anchor="end" font-weight="normal" ><tspan font-style="italic">n</tspan> = 103</text>
<line x1="467.20" y1="374.45" x2="561.20" y2="374.45" stroke="#1a1a1a" stroke-width="0.8" stroke-dasharray="2 1.6"/>
<line x1="629.20" y1="374.45" x2="666.30" y2="374.45" stroke="#1a1a1a" stroke-width="0.8" stroke-dasharray="2 1.6"/>
<line x1="467.20" y1="365.03" x2="467.20" y2="383.88" stroke="#1a1a1a" stroke-width="0.9" />
<line x1="666.30" y1="365.03" x2="666.30" y2="383.88" stroke="#1a1a1a" stroke-width="0.9" />
<polygon points="561.20,355.60 592.50,355.60 603.00,365.03 613.40,355.60 629.20,355.60 629.20,393.30 613.40,393.30 603.00,383.88 592.50,393.30 561.20,393.30" fill="#ff0000" stroke="#1a1a1a" stroke-width="0.8" stroke-linejoin="miter"/>
<line x1="603.00" y1="365.03" x2="603.00" y2="383.88" stroke="#1a1a1a" stroke-width="1.6" />
<rect x="453.30" y="479.00" width="220.70" height="152.70" fill="none" stroke="#000" stroke-width="1.25"/>
<line x1="461.60" y1="631.70" x2="461.60" y2="635.70" stroke="#000" stroke-width="1.15" />
<text x="462.30" y="650.80" font-size="12.5" text-anchor="middle" font-weight="normal" letter-spacing="0.5" >0</text>
<line x1="504.55" y1="631.70" x2="504.55" y2="635.70" stroke="#000" stroke-width="1.15" />
<text x="505.25" y="650.80" font-size="12.5" text-anchor="middle" font-weight="normal" letter-spacing="0.5" >5</text>
<line x1="547.50" y1="631.70" x2="547.50" y2="635.70" stroke="#000" stroke-width="1.15" />
<text x="548.20" y="650.80" font-size="12.5" text-anchor="middle" font-weight="normal" letter-spacing="0.5" >10</text>
<line x1="590.45" y1="631.70" x2="590.45" y2="635.70" stroke="#000" stroke-width="1.15" />
<text x="591.15" y="650.80" font-size="12.5" text-anchor="middle" font-weight="normal" letter-spacing="0.5" >15</text>
<line x1="633.40" y1="631.70" x2="633.40" y2="635.70" stroke="#000" stroke-width="1.15" />
<text x="634.10" y="650.80" font-size="12.5" text-anchor="middle" font-weight="normal" letter-spacing="0.5" >20</text>
<text x="566.60" y="673.00" font-size="13" text-anchor="middle" font-weight="normal" >CADD</text>
<text x="357.00" y="474.60" font-size="19" text-anchor="start" font-weight="bold" >f</text>
<line x1="449.00" y1="508.00" x2="453.30" y2="508.00" stroke="#000" stroke-width="1.15" />
<text x="442.90" y="505.30" font-size="13" text-anchor="end" font-weight="normal" textLength="82.3" lengthAdjust="spacing" >Control DNMs</text>
<text x="442.90" y="521.10" font-size="13" text-anchor="end" font-weight="normal" ><tspan font-style="italic">n</tspan> = 402</text>
<line x1="461.60" y1="508.05" x2="496.90" y2="508.05" stroke="#1a1a1a" stroke-width="0.8" stroke-dasharray="2 1.6"/>
<line x1="569.90" y1="508.05" x2="648.90" y2="508.05" stroke="#1a1a1a" stroke-width="0.8" stroke-dasharray="2 1.6"/>
<line x1="461.60" y1="498.67" x2="461.60" y2="517.42" stroke="#1a1a1a" stroke-width="0.9" />
<line x1="648.90" y1="498.67" x2="648.90" y2="517.42" stroke="#1a1a1a" stroke-width="0.9" />
<polygon points="496.90,489.30 534.70,489.30 540.30,498.67 546.20,489.30 569.90,489.30 569.90,526.80 546.20,526.80 540.30,517.42 534.70,526.80 496.90,526.80" fill="#ccff00" stroke="#1a1a1a" stroke-width="0.8" stroke-linejoin="miter"/>
<line x1="540.30" y1="498.67" x2="540.30" y2="517.42" stroke="#1a1a1a" stroke-width="1.6" />
<line x1="449.00" y1="555.30" x2="453.30" y2="555.30" stroke="#000" stroke-width="1.15" />
<text x="442.90" y="551.30" font-size="13" text-anchor="end" font-weight="normal" textLength="85.4" lengthAdjust="spacing" >ClinVar benign</text>
<text x="442.90" y="567.10" font-size="13" text-anchor="end" font-weight="normal" ><tspan font-style="italic">n</tspan> = 4,352</text>
<line x1="461.60" y1="555.00" x2="496.40" y2="555.00" stroke="#1a1a1a" stroke-width="0.8" stroke-dasharray="2 1.6"/>
<line x1="572.30" y1="555.00" x2="666.30" y2="555.00" stroke="#1a1a1a" stroke-width="0.8" stroke-dasharray="2 1.6"/>
<line x1="461.60" y1="545.60" x2="461.60" y2="564.40" stroke="#1a1a1a" stroke-width="0.9" />
<line x1="666.30" y1="545.60" x2="666.30" y2="564.40" stroke="#1a1a1a" stroke-width="0.9" />
<polygon points="496.40,536.20 541.30,536.20 543.10,545.60 544.80,536.20 572.30,536.20 572.30,573.80 544.80,573.80 543.10,564.40 541.30,573.80 496.40,573.80" fill="#ff9900" stroke="#1a1a1a" stroke-width="0.8" stroke-linejoin="miter"/>
<line x1="543.10" y1="545.60" x2="543.10" y2="564.40" stroke="#1a1a1a" stroke-width="1.6" />
<line x1="449.00" y1="602.60" x2="453.30" y2="602.60" stroke="#000" stroke-width="1.15" />
<text x="442.90" y="597.30" font-size="13" text-anchor="end" font-weight="normal" textLength="74.3" lengthAdjust="spacing" >Epi4K DNMs</text>
<text x="442.90" y="613.10" font-size="13" text-anchor="end" font-weight="normal" ><tspan font-style="italic">n</tspan> = 103</text>
<line x1="461.60" y1="602.50" x2="470.30" y2="602.50" stroke="#1a1a1a" stroke-width="0.8" stroke-dasharray="2 1.6"/>
<line x1="560.10" y1="602.50" x2="633.90" y2="602.50" stroke="#1a1a1a" stroke-width="0.8" stroke-dasharray="2 1.6"/>
<line x1="461.60" y1="593.00" x2="461.60" y2="612.00" stroke="#1a1a1a" stroke-width="0.9" />
<line x1="633.90" y1="593.00" x2="633.90" y2="612.00" stroke="#1a1a1a" stroke-width="0.9" />
<polygon points="470.30,583.50 516.60,583.50 530.20,593.00 543.80,583.50 560.10,583.50 560.10,621.50 543.80,621.50 530.20,612.00 516.60,621.50 470.30,621.50" fill="#ff0000" stroke="#1a1a1a" stroke-width="0.8" stroke-linejoin="miter"/>
<line x1="530.20" y1="593.00" x2="530.20" y2="612.00" stroke="#1a1a1a" stroke-width="1.6" />
</svg>
</body></html>
